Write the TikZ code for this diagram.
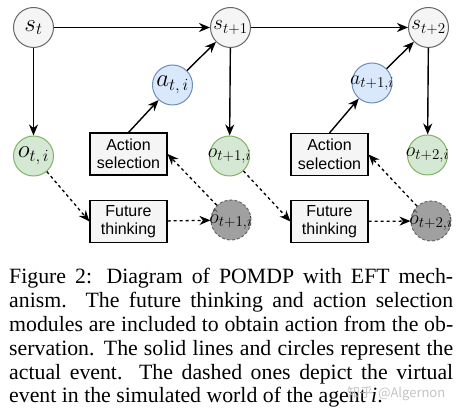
\RequirePackage{fix-cm}
\documentclass[tikz,border=0pt]{standalone}
\usepackage{fontspec}
\setmainfont{Liberation Serif}
\setsansfont{Liberation Sans}
\newfontfamily\cjkfont{Noto Sans CJK SC}
\usetikzlibrary{arrows.meta,calc}
\definecolor{sfill}{HTML}{F5F5F5}
\definecolor{sline}{HTML}{666666}
\definecolor{afill}{HTML}{DAE8FC}
\definecolor{aline}{HTML}{6C8EBF}
\definecolor{ofill}{HTML}{D5E8D4}
\definecolor{oline}{HTML}{82B366}
\definecolor{vfill}{HTML}{A0A0A0}
\definecolor{vline}{HTML}{666666}
\definecolor{wmark}{HTML}{C4C4C4}
% #1 base symbol, #2 subscript, #3 base size, #4 subscript size
\newcommand{\lab}[4]{\makebox[0pt]{\fontsize{#3}{#3}\selectfont$#1_{\mbox{\fontsize{#4}{#4}\selectfont$#2$}}$}}
\begin{document}
\begin{tikzpicture}[x=1pt,y=-1pt,
  state/.style={circle, draw=sline, fill=sfill, line width=1pt, minimum size=40pt, inner sep=0pt},
  act/.style={state, draw=aline, fill=afill},
  obs/.style={state, draw=oline, fill=ofill},
  vobs/.style={state, dash pattern=on 3pt off 2pt, draw=vline, fill=vfill},
  module/.style={rectangle, draw=black, fill=sfill, line width=1.1pt, minimum width=77pt, minimum height=42pt, inner sep=0pt, align=center, font=\sffamily\fontsize{16}{18.5}\selectfont},
  arr/.style={-{Stealth[length=11pt,width=9pt,inset=3.5pt]}, line width=1.4pt},
  varr/.style={arr, line width=1.3pt, dash pattern=on 3pt off 3pt},
  caption/.style={anchor=base west, inner sep=0pt, text width=444pt, align=justify, font=\fontsize{21.8}{23.8}\selectfont}
]
\useasboundingbox (0,0) rectangle (459,414);
\fill[white] (0,0) rectangle (459,414);

% states
\node[state] (st)  at (33.5,27.5) {\lab{s}{t}{25}{17}};
\node[state] (st1) at (230.5,27.5) {\lab{s}{t{+}1}{21}{15}};
\node[state] (st2) at (428.5,27.5) {\lab{s}{t{+}2}{21}{15}};
% actions
\node[act] (a1) at (172.5,85) {\lab{a}{t,i}{25}{17}};
\node[act] (a2) at (372,83) {\lab{a}{t{+}1{,}i}{20}{15}};
% observations
\node[obs] (o1) at (33.5,156) {\lab{o}{t,i}{25}{17}};
\node[obs] (o2) at (229.5,156) {\lab{o}{t{+}1{,}i}{20}{15}};
\node[obs] (o3) at (427.5,155) {\lab{o}{t{+}2{,}i}{20}{15}};
% modules
\node[module] (as1) at (128.5,154) {Action\\selection};
\node[module] (as2) at (329.5,154.5) {Action\\selection};
\node[module] (ft1) at (128.5,221.5) {Future\\thinking};
\node[module] (ft2) at (329.5,221.5) {Future\\thinking};
% virtual observations
\node[vobs] (oh1) at (231,220) {\lab{\hat{o}}{t{+}1{,}i}{20}{15}};
\node[vobs] (oh2) at (431,221) {\lab{\hat{o}}{t{+}2{,}i}{20}{15}};

% solid connectors
\draw[arr] (st) -- (st1);
\draw[arr] (st1) -- (st2);
\draw[arr] (st) -- (o1);
\draw[arr] (st1) -- (o2);
\draw[arr] (st2) -- (o3);
\draw[arr] (as1.north) -- (a1);
\draw[arr] (a1) -- (st1);
\draw[arr] (as2.north) -- (a2);
\draw[arr] (a2) -- (st2);

% dashed connectors
\draw[varr] (o1) -- (ft1.west);
\draw[varr] (ft1) -- (oh1);
\draw[varr] (oh1) -- (as1.east);
\draw[varr] (o2) -- (ft2.west);
\draw[varr] (ft2) -- (oh2);
\draw[varr] (oh2) -- (as2.east);

% caption
\node[caption] (cap) at (9,284) {Figure 2: Diagram of POMDP with EFT mech-\linebreak
anism. The future thinking and action selection\linebreak
modules are included to obtain action from the ob-\linebreak
servation. The solid lines and circles represent the\linebreak
actual event. The dashed ones depict the virtual\linebreak
event in the simulated world of the agent \textit{i}.};

% watermark
\node[anchor=base west, inner sep=0pt, text=wmark, font=\cjkfont\fontsize{13}{15}\selectfont] (wm) at (347,398) {知乎 \,@Algernon};
\end{tikzpicture}
\end{document}
